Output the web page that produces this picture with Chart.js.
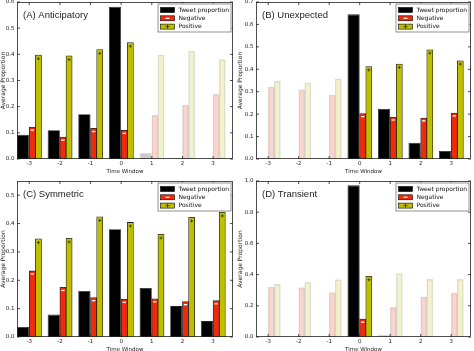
<!DOCTYPE html>
<html>
<head>
<meta charset="utf-8">
<script src="https://cdn.jsdelivr.net/npm/chart.js@4.4.1/dist/chart.umd.min.js"></script>
<style>
  html, body { margin: 0; padding: 0; background: #fff; width: 474px; height: 351px; overflow: hidden; }
  canvas { position: absolute; }
</style>
</head>
<body>
<canvas id="cA" width="237" height="175" style="left:0;top:0"></canvas>
<canvas id="cB" width="237" height="175" style="left:237px;top:0"></canvas>
<canvas id="cC" width="237" height="178" style="left:0;top:175px"></canvas>
<canvas id="cD" width="237" height="178" style="left:237px;top:175px"></canvas>
<script>
// categories and series names
const windows = [-3, -2, -1, 0, 1, 2, 3];
const seriesNames = ['Tweet proportion', 'Negative', 'Positive'];
const panelTitles = ['(A) Anticipatory', '(B) Unexpected', '(C) Symmetric', '(D) Transient'];

// (A) Anticipatory
const tweetA = [0.093, 0.110, 0.171, 0.582, 0.023, 0.004, 0.002];
const negA   = [0.122, 0.084, 0.117, 0.110, 0.167, 0.205, 0.247];
const posA   = [0.397, 0.394, 0.418, 0.445, 0.397, 0.412, 0.380];
// (B) Unexpected
const tweetB = [0.000, 0.000, 0.003, 0.645, 0.224, 0.073, 0.036];
const negB   = [0.321, 0.309, 0.285, 0.202, 0.187, 0.183, 0.205];
const posB   = [0.346, 0.340, 0.357, 0.412, 0.423, 0.487, 0.438];
// (C) Symmetric
const tweetC = [0.035, 0.079, 0.162, 0.380, 0.173, 0.109, 0.056];
const negC   = [0.233, 0.175, 0.139, 0.133, 0.135, 0.125, 0.128];
const posC   = [0.346, 0.348, 0.424, 0.404, 0.362, 0.422, 0.440];
// (D) Transient
const tweetD = [0.000, 0.000, 0.002, 0.972, 0.015, 0.002, 0.001];
const negD   = [0.320, 0.316, 0.284, 0.115, 0.190, 0.256, 0.282];
const posD   = [0.338, 0.350, 0.368, 0.389, 0.406, 0.370, 0.370];

// y axis tops / steps, and error bar half-widths [negative, positive]
const yMax  = [0.6, 0.7, 0.55, 1.0];
const yStep = [0.1, 0.1, 0.1, 0.2];
const errs  = [[0.012, 0.014], [0.013, 0.015], [0.011, 0.013], [0.02, 0.022]];

const COLORS = [[0, 0, 0], [242, 42, 12], [191, 191, 0]];
const rgba = (c, a) => `rgba(${c[0]},${c[1]},${c[2]},${a})`;

// frame, inward ticks, error markers, legend, panel title
const panelDecor = {
    id: 'panelDecor',
    afterDatasetsDraw(chart, args, opts) {
        const { ctx, scales: { y } } = chart;
        ctx.save();
        [1, 2].forEach(di => {
            const ds = chart.data.datasets[di];
            chart.getDatasetMeta(di).data.forEach((bar, i) => {
                if (opts.faded[i]) return;
                const py = y.getPixelForValue(ds.data[i].y - opts.err[di - 1]);
                ctx.beginPath();
                if (di === 1) {
                    ctx.strokeStyle = '#fff';
                    ctx.lineWidth = 1.3;
                    ctx.moveTo(bar.x - 1.7, py); ctx.lineTo(bar.x + 1.7, py);
                } else {
                    ctx.strokeStyle = '#3a4a00';
                    ctx.lineWidth = 1;
                    ctx.moveTo(bar.x - 1.5, py); ctx.lineTo(bar.x + 1.5, py);
                    ctx.moveTo(bar.x, py - 1.5); ctx.lineTo(bar.x, py + 1.5);
                }
                ctx.stroke();
            });
        });
        ctx.restore();
    },
    afterDraw(chart, args, opts) {
        const { ctx, chartArea: a, scales: { x, y } } = chart;
        ctx.save();
        ctx.strokeStyle = '#222';
        ctx.lineWidth = 0.8;
        ctx.strokeRect(a.left + 0.4, a.top + 0.4, a.width - 0.8, a.height - 0.8);
        ctx.beginPath();
        y.ticks.forEach(t => {
            const py = y.getPixelForValue(t.value);
            ctx.moveTo(a.left, py); ctx.lineTo(a.left + 3, py);
            ctx.moveTo(a.right - 3, py); ctx.lineTo(a.right, py);
        });
        x.ticks.forEach(t => {
            const px = x.getPixelForValue(t.value);
            ctx.moveTo(px, a.bottom); ctx.lineTo(px, a.bottom - 3);
            ctx.moveTo(px, a.top); ctx.lineTo(px, a.top + 3);
        });
        ctx.stroke();

        // panel title
        ctx.fillStyle = '#222';
        ctx.font = '9.5px "Liberation Sans", sans-serif';
        ctx.textBaseline = 'middle';
        ctx.fillText(opts.title, a.left + 6, a.top + 13);

        // legend
        const lw = 74, lh = 29;
        const lx = a.right - 1.5 - lw, ly = a.top + 1.5;
        ctx.fillStyle = '#fff';
        ctx.fillRect(lx, ly, lw, lh);
        ctx.strokeStyle = '#666';
        ctx.lineWidth = 0.7;
        ctx.strokeRect(lx + 0.5, ly + 0.5, lw - 1, lh - 1);
        chart.data.datasets.forEach((ds, k) => {
            const cy = ly + 6.5 + k * 8.3;
            ctx.fillStyle = rgba(COLORS[k], 1);
            ctx.fillRect(lx + 3, cy - 2.5, 14, 5);
            ctx.strokeStyle = '#000';
            ctx.lineWidth = 0.6;
            ctx.strokeRect(lx + 3, cy - 2.5, 14, 5);
            ctx.beginPath();
            if (k === 1) {
                ctx.strokeStyle = '#fff'; ctx.lineWidth = 1.2;
                ctx.moveTo(lx + 8, cy); ctx.lineTo(lx + 12, cy);
            } else if (k === 2) {
                ctx.strokeStyle = '#3a4a00'; ctx.lineWidth = 1;
                ctx.moveTo(lx + 8, cy); ctx.lineTo(lx + 12, cy);
                ctx.moveTo(lx + 10, cy - 2); ctx.lineTo(lx + 10, cy + 2);
            }
            ctx.stroke();
            ctx.fillStyle = '#111';
            ctx.font = '6px "DejaVu Sans", sans-serif';
            ctx.fillText(ds.label, lx + 21, cy + 0.3);
        });
        ctx.restore();
    }
};

function makePanel(id, idx, tweet, neg, pos, geo) {
    const faded = tweet.map(t => t < 0.03);
    const series = [tweet, neg, pos];
    const offsets = [-0.2, 0.1, 0.3];
    const widthMul = [2, 1, 1]; // black bar is twice as wide as the sentiment bars
    const canvas = document.getElementById(id);
    const cw = canvas.width, ch = canvas.height;

    const datasets = series.map((vals, k) => ({
        label: seriesNames[k],
        data: windows.map((w, i) => ({ x: w + offsets[k], y: vals[i] })),
        backgroundColor: vals.map((_, i) => rgba(COLORS[k], faded[i] ? 0.2 : 1)),
        borderColor: vals.map((_, i) => faded[i] ? 'rgba(0,0,0,0.12)' : 'rgba(0,0,0,0.85)'),
        borderWidth: 0.8,
        grouped: false,
        barPercentage: widthMul[k],
        categoryPercentage: 1
    }));

    const tickFont = { family: 'DejaVu Sans', size: 5.5 };

    new Chart(canvas, {
        type: 'bar',
        data: { datasets },
        options: {
            responsive: false,
            animation: false,
            layout: { padding: { left: 0, top: geo.top, right: cw - geo.right, bottom: 0 } },
            plugins: {
                legend: { display: false },
                tooltip: { enabled: false },
                panelDecor: { title: panelTitles[idx], faded, err: errs[idx] }
            },
            scales: {
                x: {
                    type: 'linear',
                    offset: false,
                    min: -3.4,
                    max: 3.65,
                    grid: { display: false, drawTicks: false },
                    border: { display: false },
                    ticks: { stepSize: 1, includeBounds: false, padding: 1.5, color: '#222', font: tickFont,
                             callback: v => String(v) },
                    title: { display: true, text: 'Time Window', color: '#222', padding: 0,
                             font: { family: 'DejaVu Sans', size: 5.5 } },
                    afterFit(s) { s.height = ch - geo.bottom; s.paddingLeft = 0; s.paddingRight = 0; }
                },
                y: {
                    min: 0,
                    max: yMax[idx],
                    grid: { display: false, drawTicks: false },
                    border: { display: false },
                    ticks: { stepSize: yStep[idx], includeBounds: false, padding: 2.5, color: '#222', font: tickFont,
                             callback: v => v.toFixed(1) },
                    title: { display: true, text: 'Average Proportion', color: '#222', padding: 0,
                             font: { family: 'DejaVu Sans', size: 6 } },
                    afterFit(s) { s.width = geo.left; s.paddingTop = 0; s.paddingBottom = 0; }
                }
            }
        },
        plugins: [panelDecor]
    });
}

makePanel('cA', 0, tweetA, negA, posA, { left: 17, right: 233, top: 2, bottom: 159 });
makePanel('cB', 1, tweetB, negB, posB, { left: 19, right: 234, top: 2, bottom: 159 });
makePanel('cC', 2, tweetC, negC, posC, { left: 17, right: 233, top: 6, bottom: 162 });
makePanel('cD', 3, tweetD, negD, posD, { left: 19, right: 234, top: 6, bottom: 162 });
</script>
</body>
</html>
